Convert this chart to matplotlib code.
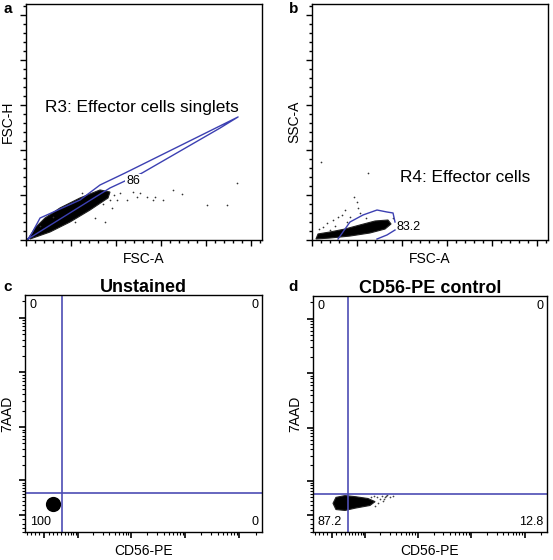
import numpy as np
import matplotlib
matplotlib.use("Agg")
import matplotlib.pyplot as plt
from matplotlib.patches import Polygon

plt.rcParams['font.family'] = ['Liberation Sans', 'DejaVu Sans']

# ---- panel a : FSC-A vs FSC-H (singlets gate) ----
a_gate_x = [2200, 6700, 15600, 60000, 82200, 110000, 235600, 215600, 128900, 93300, 2200]
a_gate_y = [1100, 7800, 24400, 44400, 61100, 74400, 136700, 124400, 74400, 57800, 1100]
a_cloud_x = [4400, 26700, 48900, 71100, 91100, 93300, 82200, 60000, 37800, 21100, 10000, 4400]
a_cloud_y = [1100, 8900, 20000, 33300, 46700, 53300, 55600, 46700, 35600, 24400, 13300, 4400]
a_dots_x = [234400, 163300, 173300, 201100, 223300, 152200, 143300, 134400, 126700, 123300,
            112200, 101100, 87800, 76700, 54400, 141100, 118900, 93300, 104400, 98000, 85000,
            30000, 15000, 62000, 96000]
a_dots_y = [63300, 55600, 51100, 38900, 38900, 44400, 47800, 47800, 52200, 47800,
            44400, 44400, 20000, 24400, 20000, 44400, 53300, 44400, 52200, 50000, 40000,
            26000, 15000, 52000, 36000]
a_pct = "86"
a_name = "R3: Effector cells singlets"

# ---- panel b : FSC-A vs SSC-A (effector gate) ----
b_gate_x = [28900, 42200, 56700, 72200, 83300, 90000, 92200]
b_gate_y = [1100, 20000, 27800, 33300, 31100, 30000, 20000]
b_gate2_x = [92200, 83300, 72200]
b_gate2_y = [11100, 5600, 1100]
b_cloud_x = [4400, 20000, 42200, 64400, 81100, 87800, 84400, 70000, 53300, 36700, 20000, 6700]
b_cloud_y = [1100, 2200, 4400, 7800, 12200, 17800, 22200, 21100, 16700, 12200, 8900, 6700]
b_dots_x = [10000, 62200, 46700, 50000, 36700, 33300, 42200, 23300, 16700, 12200,
            38900, 28900, 53300, 20000, 51100, 8000, 26000, 90000, 60000]
b_dots_y = [86700, 74400, 47800, 42200, 33300, 27800, 25600, 22200, 18900, 14400,
            20000, 25600, 30000, 11100, 35600, 12000, 16000, 24000, 24000]
b_pct = "83.2"
b_name = "R4: Effector cells"

# ---- panels c, d : CD56-PE vs 7AAD quadrants ----
c_title = "Unstained"
c_cut = (42, 51)
c_core = (19.5, 23)
c_dots_x = [8, 30, 12, 28, 22, 15]
c_dots_y = [20, 30, 33, 15, 36, 12]
c_quad = ["0", "0", "100", "0"]  # UL, UR, LL, LR

d_title = "CD56-PE control"
d_cut = (38, 51)
d_core_x = [2.6, 9, 30, 59, 113, 157, 124, 59, 30, 9]
d_core_y = [25, 40, 45, 42, 37, 29, 20, 14, 9, 11]
d_dots_x = [196, 245, 347, 300, 220, 180, 270, 150, 210, 160, 130, 175, 230, 260]
d_dots_y = [35, 40, 45, 42, 30, 25, 48, 44, 44, 18, 40, 40, 36, 44]
d_quad = ["0", "0", "87.2", "12.8"]

gate_col = '#3c40b2'
quad_col = '#4d4db4'
W, H = 553, 560


def fwd(v):
    return np.arcsinh(np.asarray(v, dtype=float) / 50.0) / np.log(10)


def inv(u):
    return 50.0 * np.sinh(np.asarray(u, dtype=float) * np.log(10))


def lin_axes(ax):
    ax.set_xlim(0, 262144)
    ax.set_ylim(0, 262144)
    major = np.arange(0, 262144, 50000)
    minor = np.arange(0, 262144, 10000)
    ax.set_xticks(major)
    ax.set_yticks(major)
    ax.set_xticks(minor, minor=True)
    ax.set_yticks(minor, minor=True)
    ax.tick_params(which='major', length=4, width=1, labelbottom=False, labelleft=False)
    ax.tick_params(which='minor', length=2.5, width=1)
    for s in ax.spines.values():
        s.set_linewidth(1)


def bi_axes(ax):
    ax.set_xscale('function', functions=(fwd, inv))
    ax.set_yscale('function', functions=(fwd, inv))
    ax.set_xlim(-45, 262144)
    ax.set_ylim(-35, 262144)
    major = [0, 100, 1000, 10000, 100000]
    minor = [-40, -30, -20, -10, 10, 20, 30, 40, 50, 60, 70, 80, 90]
    for d in [100, 1000, 10000, 100000]:
        minor += [k * d for k in range(2, 10) if k * d < 262144]
    for axis in (ax.xaxis, ax.yaxis):
        axis.set_ticks(major)
        axis.set_ticks(minor, minor=True)
    ax.tick_params(which='major', length=4, width=1.2, labelbottom=False, labelleft=False)
    ax.tick_params(which='minor', length=2, width=0.8)
    for s in ax.spines.values():
        s.set_linewidth(1)


def cloud(ax, xs, ys):
    ax.add_patch(Polygon(list(zip(xs, ys)), closed=True, fc='black', ec='#222222', lw=0.8))


fig = plt.figure(figsize=(W / 100, H / 100), dpi=100)

def add_ax(l, t, r, b):
    return fig.add_axes([l / W, 1 - b / H, (r - l) / W, (b - t) / H])

axa = add_ax(26, 4, 262, 240)
axb = add_ax(312, 4, 548, 240)
axc = add_ax(25, 295, 262, 532)
axd = add_ax(313, 296, 547, 532)

# panel a
lin_axes(axa)
cloud(axa, a_cloud_x, a_cloud_y)
axa.scatter(a_dots_x, a_dots_y, s=1.5, c='#333333', lw=0)
axa.plot(a_gate_x, a_gate_y, color=gate_col, lw=1)
axa.text(119000, 66000, a_pct, fontsize=9, ha='center', va='center',
         bbox=dict(fc='white', ec='none', pad=0.5))
axa.text(21000, 147000, a_name, fontsize=12.4, ha='left', va='center')
axa.set_xlabel("FSC-A", fontsize=10, labelpad=3)
axa.set_ylabel("FSC-H", fontsize=10, labelpad=2)

# panel b
lin_axes(axb)
cloud(axb, b_cloud_x, b_cloud_y)
axb.scatter(b_dots_x, b_dots_y, s=1.5, c='#333333', lw=0)
axb.plot(b_gate_x, b_gate_y, color=gate_col, lw=1)
axb.plot(b_gate2_x, b_gate2_y, color=gate_col, lw=1)
axb.text(94400, 14400, b_pct, fontsize=9, ha='left', va='center')
axb.text(97800, 68900, b_name, fontsize=12.4, ha='left', va='center')
axb.set_xlabel("FSC-A", fontsize=10, labelpad=3)
axb.set_ylabel("SSC-A", fontsize=10, labelpad=2)

# panels c, d
for ax, title, cut, quad in [(axc, c_title, c_cut, c_quad), (axd, d_title, d_cut, d_quad)]:
    bi_axes(ax)
    ax.axvline(cut[0], color=quad_col, lw=1.2)
    ax.axhline(cut[1], color=quad_col, lw=1.2)
    ax.set_title(title, fontsize=13, fontweight='bold', pad=2)
    ax.set_xlabel("CD56-PE", fontsize=10, labelpad=3)
    ax.set_ylabel("7AAD", fontsize=10, labelpad=2)
    ax.text(0.02, 0.985, quad[0], transform=ax.transAxes, fontsize=9, ha='left', va='top')
    ax.text(0.985, 0.985, quad[1], transform=ax.transAxes, fontsize=9, ha='right', va='top')
    ax.text(0.02, 0.015, quad[2], transform=ax.transAxes, fontsize=9, ha='left', va='bottom')
    ax.text(0.985, 0.015, quad[3], transform=ax.transAxes, fontsize=9, ha='right', va='bottom')

axc.scatter(c_dots_x, c_dots_y, s=1.5, c='#333333', lw=0)
axc.scatter([c_core[0]], [c_core[1]], s=120, c='black', lw=0)

cloud(axd, d_core_x, d_core_y)
axd.scatter(d_dots_x, d_dots_y, s=1.5, c='#444444', lw=0)

# panel letters
for lbl, x, y in [("a", 3, 2), ("b", 289, 2), ("c", 3, 280), ("d", 288, 280)]:
    fig.text(x / W, 1 - y / H, lbl, fontsize=11, fontweight='bold', ha='left', va='top')

fig.savefig("out.png", dpi=100)
